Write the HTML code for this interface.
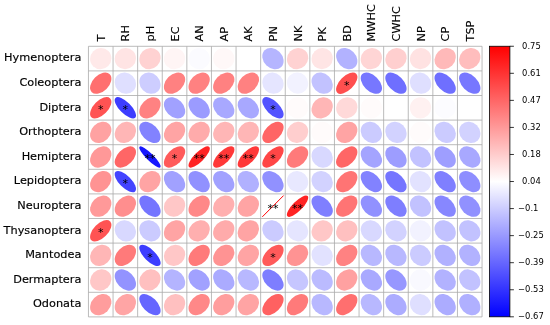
<!DOCTYPE html>
<html><head><meta charset="utf-8"><title>Correlation plot</title>
<style>
html,body{margin:0;padding:0;background:#fff;}
body{width:550px;height:325px;overflow:hidden;}
svg{display:block;}
text{font-family:"DejaVu Sans","Liberation Sans",sans-serif;fill:#000;stroke:#000;stroke-width:0.15px;}
.rl{font-size:11.3px;text-anchor:end;}
.cl{font-size:11.25px;text-anchor:start;}
.tl{font-size:8.4px;stroke:none;text-anchor:start;}
.st{font-size:11px;stroke:none;text-anchor:middle;fill:#000;}
</style></head><body>
<svg width="550" height="325" viewBox="0 0 550 325">
<defs><linearGradient id="cb" x1="0" y1="0" x2="0" y2="1"><stop offset="0" stop-color="#ff0000"/><stop offset="0.5" stop-color="#ffffff"/><stop offset="1" stop-color="#0000ff"/></linearGradient></defs>
<rect x="0" y="0" width="550" height="325" fill="#ffffff"/>
<ellipse cx="100.75" cy="58.60" rx="10.78" ry="10.52" fill="#ffe9e9" transform="rotate(-45 100.75 58.60)"/>
<ellipse cx="125.35" cy="58.60" rx="10.83" ry="10.47" fill="#ffe4e4" transform="rotate(-45 125.35 58.60)"/>
<ellipse cx="149.95" cy="58.60" rx="11.04" ry="10.25" fill="#ffd2d2" transform="rotate(-45 149.95 58.60)"/>
<ellipse cx="174.55" cy="58.60" rx="10.69" ry="10.61" fill="#fff5f5" transform="rotate(-45 174.55 58.60)"/>
<ellipse cx="199.15" cy="58.60" rx="10.68" ry="10.62" fill="#fbfbff" transform="rotate(45 199.15 58.60)"/>
<ellipse cx="223.75" cy="58.60" rx="10.67" ry="10.63" fill="#fff8f8" transform="rotate(-45 223.75 58.60)"/>
<ellipse cx="248.35" cy="58.60" rx="10.65" ry="10.65" fill="#ffffff" transform="rotate(-45 248.35 58.60)"/>
<ellipse cx="272.95" cy="58.60" rx="11.79" ry="9.37" fill="#b5b5ff" transform="rotate(45 272.95 58.60)"/>
<ellipse cx="297.55" cy="58.60" rx="11.04" ry="10.24" fill="#ffd2d2" transform="rotate(-45 297.55 58.60)"/>
<ellipse cx="322.15" cy="58.60" rx="10.82" ry="10.47" fill="#ffe5e5" transform="rotate(-45 322.15 58.60)"/>
<ellipse cx="346.75" cy="58.60" rx="11.85" ry="9.30" fill="#b2b2ff" transform="rotate(45 346.75 58.60)"/>
<ellipse cx="371.35" cy="58.60" rx="11.00" ry="10.29" fill="#ffd5d5" transform="rotate(-45 371.35 58.60)"/>
<ellipse cx="395.95" cy="58.60" rx="11.07" ry="10.21" fill="#ffcfcf" transform="rotate(-45 395.95 58.60)"/>
<ellipse cx="420.55" cy="58.60" rx="10.86" ry="10.44" fill="#ffe2e2" transform="rotate(-45 420.55 58.60)"/>
<ellipse cx="445.15" cy="58.60" rx="11.39" ry="9.86" fill="#ffb9b9" transform="rotate(-45 445.15 58.60)"/>
<ellipse cx="469.75" cy="58.60" rx="11.33" ry="9.92" fill="#ffbdbd" transform="rotate(-45 469.75 58.60)"/>
<ellipse cx="100.75" cy="83.20" rx="12.70" ry="8.09" fill="#ff6f6f" transform="rotate(-45 100.75 83.20)"/>
<ellipse cx="125.35" cy="83.20" rx="11.09" ry="10.19" fill="#dfdfff" transform="rotate(45 125.35 83.20)"/>
<ellipse cx="149.95" cy="83.20" rx="11.38" ry="9.86" fill="#cdcdff" transform="rotate(45 149.95 83.20)"/>
<ellipse cx="174.55" cy="83.20" rx="12.36" ry="8.61" fill="#ff8181" transform="rotate(-45 174.55 83.20)"/>
<ellipse cx="199.15" cy="83.20" rx="12.36" ry="8.61" fill="#ff8181" transform="rotate(-45 199.15 83.20)"/>
<ellipse cx="223.75" cy="83.20" rx="12.36" ry="8.61" fill="#ff8181" transform="rotate(-45 223.75 83.20)"/>
<ellipse cx="248.35" cy="83.20" rx="12.36" ry="8.61" fill="#ff8181" transform="rotate(-45 248.35 83.20)"/>
<ellipse cx="272.95" cy="83.20" rx="10.99" ry="10.30" fill="#e5e5ff" transform="rotate(45 272.95 83.20)"/>
<ellipse cx="297.55" cy="83.20" rx="10.80" ry="10.50" fill="#f2f2ff" transform="rotate(45 297.55 83.20)"/>
<ellipse cx="322.15" cy="83.20" rx="11.57" ry="9.64" fill="#c2c2ff" transform="rotate(45 322.15 83.20)"/>
<ellipse cx="346.75" cy="83.20" rx="13.36" ry="6.96" fill="#ff4f4f" transform="rotate(-45 346.75 83.20)"/>
<ellipse cx="371.35" cy="83.20" rx="12.92" ry="7.74" fill="#7777ff" transform="rotate(45 371.35 83.20)"/>
<ellipse cx="395.95" cy="83.20" rx="13.05" ry="7.51" fill="#6f6fff" transform="rotate(45 395.95 83.20)"/>
<ellipse cx="420.55" cy="83.20" rx="11.09" ry="10.19" fill="#dfdfff" transform="rotate(45 420.55 83.20)"/>
<ellipse cx="445.15" cy="83.20" rx="13.05" ry="7.51" fill="#6f6fff" transform="rotate(45 445.15 83.20)"/>
<ellipse cx="469.75" cy="83.20" rx="12.92" ry="7.74" fill="#7777ff" transform="rotate(45 469.75 83.20)"/>
<ellipse cx="100.75" cy="107.80" rx="13.28" ry="7.10" fill="#ff5353" transform="rotate(-45 100.75 107.80)"/>
<ellipse cx="125.35" cy="107.80" rx="13.97" ry="5.63" fill="#3d3dff" transform="rotate(45 125.35 107.80)"/>
<ellipse cx="149.95" cy="107.80" rx="12.35" ry="8.62" fill="#ff8282" transform="rotate(-45 149.95 107.80)"/>
<ellipse cx="174.55" cy="107.80" rx="12.15" ry="8.90" fill="#a1a1ff" transform="rotate(45 174.55 107.80)"/>
<ellipse cx="199.15" cy="107.80" rx="12.26" ry="8.74" fill="#9b9bff" transform="rotate(45 199.15 107.80)"/>
<ellipse cx="223.75" cy="107.80" rx="12.03" ry="9.06" fill="#a8a8ff" transform="rotate(45 223.75 107.80)"/>
<ellipse cx="248.35" cy="107.80" rx="12.03" ry="9.06" fill="#a8a8ff" transform="rotate(45 248.35 107.80)"/>
<ellipse cx="272.95" cy="107.80" rx="13.58" ry="6.52" fill="#5353ff" transform="rotate(45 272.95 107.80)"/>
<ellipse cx="297.55" cy="107.80" rx="10.66" ry="10.64" fill="#fffbfb" transform="rotate(-45 297.55 107.80)"/>
<ellipse cx="322.15" cy="107.80" rx="11.44" ry="9.80" fill="#ffb6b6" transform="rotate(-45 322.15 107.80)"/>
<ellipse cx="346.75" cy="107.80" rx="10.96" ry="10.33" fill="#ffd9d9" transform="rotate(-45 346.75 107.80)"/>
<ellipse cx="371.35" cy="107.80" rx="10.66" ry="10.64" fill="#fffbfb" transform="rotate(-45 371.35 107.80)"/>
<ellipse cx="395.95" cy="107.80" rx="10.65" ry="10.65" fill="#ffffff" transform="rotate(-45 395.95 107.80)"/>
<ellipse cx="420.55" cy="107.80" rx="10.72" ry="10.58" fill="#fff1f1" transform="rotate(-45 420.55 107.80)"/>
<ellipse cx="445.15" cy="107.80" rx="10.68" ry="10.62" fill="#fcfcff" transform="rotate(45 445.15 107.80)"/>
<ellipse cx="469.75" cy="107.80" rx="10.65" ry="10.65" fill="#ffffff" transform="rotate(-45 469.75 107.80)"/>
<ellipse cx="100.75" cy="132.40" rx="11.77" ry="9.40" fill="#ffa2a2" transform="rotate(-45 100.75 132.40)"/>
<ellipse cx="125.35" cy="132.40" rx="11.44" ry="9.80" fill="#ffb6b6" transform="rotate(-45 125.35 132.40)"/>
<ellipse cx="149.95" cy="132.40" rx="12.71" ry="8.08" fill="#8282ff" transform="rotate(45 149.95 132.40)"/>
<ellipse cx="174.55" cy="132.40" rx="11.72" ry="9.46" fill="#ffa4a4" transform="rotate(-45 174.55 132.40)"/>
<ellipse cx="199.15" cy="132.40" rx="11.61" ry="9.60" fill="#ffabab" transform="rotate(-45 199.15 132.40)"/>
<ellipse cx="223.75" cy="132.40" rx="11.44" ry="9.80" fill="#ffb6b6" transform="rotate(-45 223.75 132.40)"/>
<ellipse cx="248.35" cy="132.40" rx="11.44" ry="9.80" fill="#ffb6b6" transform="rotate(-45 248.35 132.40)"/>
<ellipse cx="272.95" cy="132.40" rx="12.92" ry="7.74" fill="#ff6565" transform="rotate(-45 272.95 132.40)"/>
<ellipse cx="297.55" cy="132.40" rx="11.09" ry="10.19" fill="#ffcece" transform="rotate(-45 297.55 132.40)"/>
<ellipse cx="322.15" cy="132.40" rx="10.66" ry="10.64" fill="#fffbfb" transform="rotate(-45 322.15 132.40)"/>
<ellipse cx="346.75" cy="132.40" rx="11.72" ry="9.46" fill="#ffa4a4" transform="rotate(-45 346.75 132.40)"/>
<ellipse cx="371.35" cy="132.40" rx="11.41" ry="9.83" fill="#cbcbff" transform="rotate(45 371.35 132.40)"/>
<ellipse cx="395.95" cy="132.40" rx="11.30" ry="9.96" fill="#d2d2ff" transform="rotate(45 395.95 132.40)"/>
<ellipse cx="420.55" cy="132.40" rx="10.66" ry="10.64" fill="#fffbfb" transform="rotate(-45 420.55 132.40)"/>
<ellipse cx="445.15" cy="132.40" rx="11.41" ry="9.83" fill="#cbcbff" transform="rotate(45 445.15 132.40)"/>
<ellipse cx="469.75" cy="132.40" rx="11.30" ry="9.96" fill="#d2d2ff" transform="rotate(45 469.75 132.40)"/>
<ellipse cx="100.75" cy="157.00" rx="11.94" ry="9.18" fill="#ff9898" transform="rotate(-45 100.75 157.00)"/>
<ellipse cx="125.35" cy="157.00" rx="12.90" ry="7.78" fill="#ff6666" transform="rotate(-45 125.35 157.00)"/>
<ellipse cx="149.95" cy="157.00" rx="14.66" ry="3.46" fill="#1717ff" transform="rotate(45 149.95 157.00)"/>
<ellipse cx="174.55" cy="157.00" rx="13.14" ry="7.37" fill="#ff5a5a" transform="rotate(-45 174.55 157.00)"/>
<ellipse cx="199.15" cy="157.00" rx="14.27" ry="4.81" fill="#ff2424" transform="rotate(-45 199.15 157.00)"/>
<ellipse cx="223.75" cy="157.00" rx="13.85" ry="5.92" fill="#ff3838" transform="rotate(-45 223.75 157.00)"/>
<ellipse cx="248.35" cy="157.00" rx="13.85" ry="5.92" fill="#ff3838" transform="rotate(-45 248.35 157.00)"/>
<ellipse cx="272.95" cy="157.00" rx="13.55" ry="6.58" fill="#ff4646" transform="rotate(-45 272.95 157.00)"/>
<ellipse cx="297.55" cy="157.00" rx="12.49" ry="8.42" fill="#ff7a7a" transform="rotate(-45 297.55 157.00)"/>
<ellipse cx="322.15" cy="157.00" rx="11.19" ry="10.08" fill="#d8d8ff" transform="rotate(45 322.15 157.00)"/>
<ellipse cx="346.75" cy="157.00" rx="12.90" ry="7.78" fill="#ff6666" transform="rotate(-45 346.75 157.00)"/>
<ellipse cx="371.35" cy="157.00" rx="12.09" ry="8.98" fill="#a4a4ff" transform="rotate(45 371.35 157.00)"/>
<ellipse cx="395.95" cy="157.00" rx="12.22" ry="8.81" fill="#9d9dff" transform="rotate(45 395.95 157.00)"/>
<ellipse cx="420.55" cy="157.00" rx="11.57" ry="9.64" fill="#c2c2ff" transform="rotate(45 420.55 157.00)"/>
<ellipse cx="445.15" cy="157.00" rx="12.21" ry="8.82" fill="#9e9eff" transform="rotate(45 445.15 157.00)"/>
<ellipse cx="469.75" cy="157.00" rx="12.03" ry="9.06" fill="#a8a8ff" transform="rotate(45 469.75 157.00)"/>
<ellipse cx="100.75" cy="181.60" rx="12.03" ry="9.06" fill="#ff9393" transform="rotate(-45 100.75 181.60)"/>
<ellipse cx="125.35" cy="181.60" rx="13.84" ry="5.95" fill="#4444ff" transform="rotate(45 125.35 181.60)"/>
<ellipse cx="149.95" cy="181.60" rx="11.72" ry="9.46" fill="#ffa4a4" transform="rotate(-45 149.95 181.60)"/>
<ellipse cx="174.55" cy="181.60" rx="12.15" ry="8.90" fill="#a1a1ff" transform="rotate(45 174.55 181.60)"/>
<ellipse cx="199.15" cy="181.60" rx="12.44" ry="8.49" fill="#9191ff" transform="rotate(45 199.15 181.60)"/>
<ellipse cx="223.75" cy="181.60" rx="12.15" ry="8.90" fill="#a1a1ff" transform="rotate(45 223.75 181.60)"/>
<ellipse cx="248.35" cy="181.60" rx="11.86" ry="9.29" fill="#b1b1ff" transform="rotate(45 248.35 181.60)"/>
<ellipse cx="272.95" cy="181.60" rx="12.44" ry="8.49" fill="#9191ff" transform="rotate(45 272.95 181.60)"/>
<ellipse cx="297.55" cy="181.60" rx="10.94" ry="10.35" fill="#e8e8ff" transform="rotate(45 297.55 181.60)"/>
<ellipse cx="322.15" cy="181.60" rx="11.30" ry="9.96" fill="#d2d2ff" transform="rotate(45 322.15 181.60)"/>
<ellipse cx="346.75" cy="181.60" rx="12.62" ry="8.22" fill="#ff7474" transform="rotate(-45 346.75 181.60)"/>
<ellipse cx="371.35" cy="181.60" rx="12.71" ry="8.08" fill="#8282ff" transform="rotate(45 371.35 181.60)"/>
<ellipse cx="395.95" cy="181.60" rx="12.95" ry="7.69" fill="#7575ff" transform="rotate(45 395.95 181.60)"/>
<ellipse cx="420.55" cy="181.60" rx="11.04" ry="10.25" fill="#e2e2ff" transform="rotate(45 420.55 181.60)"/>
<ellipse cx="445.15" cy="181.60" rx="12.77" ry="7.99" fill="#7f7fff" transform="rotate(45 445.15 181.60)"/>
<ellipse cx="469.75" cy="181.60" rx="12.50" ry="8.41" fill="#8e8eff" transform="rotate(45 469.75 181.60)"/>
<ellipse cx="100.75" cy="206.20" rx="11.93" ry="9.20" fill="#ff9999" transform="rotate(-45 100.75 206.20)"/>
<ellipse cx="125.35" cy="206.20" rx="12.12" ry="8.94" fill="#ff8e8e" transform="rotate(-45 125.35 206.20)"/>
<ellipse cx="149.95" cy="206.20" rx="12.95" ry="7.69" fill="#7575ff" transform="rotate(45 149.95 206.20)"/>
<ellipse cx="174.55" cy="206.20" rx="11.18" ry="10.09" fill="#ffc7c7" transform="rotate(-45 174.55 206.20)"/>
<ellipse cx="199.15" cy="206.20" rx="12.22" ry="8.80" fill="#ff8888" transform="rotate(-45 199.15 206.20)"/>
<ellipse cx="223.75" cy="206.20" rx="11.55" ry="9.67" fill="#ffafaf" transform="rotate(-45 223.75 206.20)"/>
<ellipse cx="248.35" cy="206.20" rx="11.72" ry="9.46" fill="#ffa4a4" transform="rotate(-45 248.35 206.20)"/>
<path d="M262.30 216.85L283.60 195.55" stroke="#ff0000" stroke-width="1.0" fill="none"/>
<ellipse cx="297.55" cy="206.20" rx="14.27" ry="4.81" fill="#ff2424" transform="rotate(-45 297.55 206.20)"/>
<ellipse cx="322.15" cy="206.20" rx="12.77" ry="7.99" fill="#7f7fff" transform="rotate(45 322.15 206.20)"/>
<ellipse cx="346.75" cy="206.20" rx="12.62" ry="8.22" fill="#ff7474" transform="rotate(-45 346.75 206.20)"/>
<ellipse cx="371.35" cy="206.20" rx="12.44" ry="8.49" fill="#9191ff" transform="rotate(45 371.35 206.20)"/>
<ellipse cx="395.95" cy="206.20" rx="12.79" ry="7.95" fill="#7e7eff" transform="rotate(45 395.95 206.20)"/>
<ellipse cx="420.55" cy="206.20" rx="11.57" ry="9.64" fill="#c2c2ff" transform="rotate(45 420.55 206.20)"/>
<ellipse cx="445.15" cy="206.20" rx="12.63" ry="8.21" fill="#8787ff" transform="rotate(45 445.15 206.20)"/>
<ellipse cx="469.75" cy="206.20" rx="12.43" ry="8.50" fill="#9191ff" transform="rotate(45 469.75 206.20)"/>
<ellipse cx="100.75" cy="230.80" rx="13.28" ry="7.10" fill="#ff5353" transform="rotate(-45 100.75 230.80)"/>
<ellipse cx="125.35" cy="230.80" rx="11.19" ry="10.08" fill="#d8d8ff" transform="rotate(45 125.35 230.80)"/>
<ellipse cx="149.95" cy="230.80" rx="11.41" ry="9.83" fill="#cbcbff" transform="rotate(45 149.95 230.80)"/>
<ellipse cx="174.55" cy="230.80" rx="11.72" ry="9.46" fill="#ffa4a4" transform="rotate(-45 174.55 230.80)"/>
<ellipse cx="199.15" cy="230.80" rx="11.55" ry="9.67" fill="#ffafaf" transform="rotate(-45 199.15 230.80)"/>
<ellipse cx="223.75" cy="230.80" rx="11.61" ry="9.60" fill="#ffabab" transform="rotate(-45 223.75 230.80)"/>
<ellipse cx="248.35" cy="230.80" rx="11.72" ry="9.46" fill="#ffa4a4" transform="rotate(-45 248.35 230.80)"/>
<ellipse cx="272.95" cy="230.80" rx="11.41" ry="9.83" fill="#cbcbff" transform="rotate(45 272.95 230.80)"/>
<ellipse cx="297.55" cy="230.80" rx="10.99" ry="10.30" fill="#e5e5ff" transform="rotate(45 297.55 230.80)"/>
<ellipse cx="322.15" cy="230.80" rx="11.18" ry="10.09" fill="#ffc7c7" transform="rotate(-45 322.15 230.80)"/>
<ellipse cx="346.75" cy="230.80" rx="11.28" ry="9.98" fill="#ffc0c0" transform="rotate(-45 346.75 230.80)"/>
<ellipse cx="371.35" cy="230.80" rx="11.19" ry="10.08" fill="#d8d8ff" transform="rotate(45 371.35 230.80)"/>
<ellipse cx="395.95" cy="230.80" rx="11.30" ry="9.96" fill="#d2d2ff" transform="rotate(45 395.95 230.80)"/>
<ellipse cx="420.55" cy="230.80" rx="10.80" ry="10.50" fill="#f2f2ff" transform="rotate(45 420.55 230.80)"/>
<ellipse cx="445.15" cy="230.80" rx="11.57" ry="9.64" fill="#c2c2ff" transform="rotate(45 445.15 230.80)"/>
<ellipse cx="469.75" cy="230.80" rx="11.57" ry="9.64" fill="#c2c2ff" transform="rotate(45 469.75 230.80)"/>
<ellipse cx="100.75" cy="255.40" rx="11.44" ry="9.80" fill="#ffb6b6" transform="rotate(-45 100.75 255.40)"/>
<ellipse cx="125.35" cy="255.40" rx="12.49" ry="8.42" fill="#ff7a7a" transform="rotate(-45 125.35 255.40)"/>
<ellipse cx="149.95" cy="255.40" rx="13.97" ry="5.63" fill="#3d3dff" transform="rotate(45 149.95 255.40)"/>
<ellipse cx="174.55" cy="255.40" rx="11.18" ry="10.09" fill="#ffc7c7" transform="rotate(-45 174.55 255.40)"/>
<ellipse cx="199.15" cy="255.40" rx="12.49" ry="8.42" fill="#ff7a7a" transform="rotate(-45 199.15 255.40)"/>
<ellipse cx="223.75" cy="255.40" rx="12.03" ry="9.06" fill="#ff9393" transform="rotate(-45 223.75 255.40)"/>
<ellipse cx="248.35" cy="255.40" rx="11.72" ry="9.46" fill="#ffa4a4" transform="rotate(-45 248.35 255.40)"/>
<ellipse cx="272.95" cy="255.40" rx="13.14" ry="7.37" fill="#ff5a5a" transform="rotate(-45 272.95 255.40)"/>
<ellipse cx="297.55" cy="255.40" rx="12.03" ry="9.06" fill="#ff9393" transform="rotate(-45 297.55 255.40)"/>
<ellipse cx="322.15" cy="255.40" rx="11.04" ry="10.25" fill="#e2e2ff" transform="rotate(45 322.15 255.40)"/>
<ellipse cx="346.75" cy="255.40" rx="12.35" ry="8.62" fill="#ff8282" transform="rotate(-45 346.75 255.40)"/>
<ellipse cx="371.35" cy="255.40" rx="11.74" ry="9.43" fill="#b8b8ff" transform="rotate(45 371.35 255.40)"/>
<ellipse cx="395.95" cy="255.40" rx="11.74" ry="9.43" fill="#b8b8ff" transform="rotate(45 395.95 255.40)"/>
<ellipse cx="420.55" cy="255.40" rx="11.41" ry="9.83" fill="#cbcbff" transform="rotate(45 420.55 255.40)"/>
<ellipse cx="445.15" cy="255.40" rx="11.86" ry="9.28" fill="#b1b1ff" transform="rotate(45 445.15 255.40)"/>
<ellipse cx="469.75" cy="255.40" rx="11.85" ry="9.29" fill="#b2b2ff" transform="rotate(45 469.75 255.40)"/>
<ellipse cx="100.75" cy="280.00" rx="11.18" ry="10.09" fill="#ffc7c7" transform="rotate(-45 100.75 280.00)"/>
<ellipse cx="125.35" cy="280.00" rx="12.40" ry="8.55" fill="#9393ff" transform="rotate(45 125.35 280.00)"/>
<ellipse cx="149.95" cy="280.00" rx="11.28" ry="9.98" fill="#ffc0c0" transform="rotate(-45 149.95 280.00)"/>
<ellipse cx="174.55" cy="280.00" rx="11.82" ry="9.33" fill="#b4b4ff" transform="rotate(45 174.55 280.00)"/>
<ellipse cx="199.15" cy="280.00" rx="12.15" ry="8.90" fill="#a1a1ff" transform="rotate(45 199.15 280.00)"/>
<ellipse cx="223.75" cy="280.00" rx="11.97" ry="9.14" fill="#ababff" transform="rotate(45 223.75 280.00)"/>
<ellipse cx="248.35" cy="280.00" rx="11.74" ry="9.43" fill="#b8b8ff" transform="rotate(45 248.35 280.00)"/>
<ellipse cx="272.95" cy="280.00" rx="12.79" ry="7.95" fill="#7e7eff" transform="rotate(45 272.95 280.00)"/>
<ellipse cx="297.55" cy="280.00" rx="11.51" ry="9.72" fill="#c6c6ff" transform="rotate(45 297.55 280.00)"/>
<ellipse cx="322.15" cy="280.00" rx="11.69" ry="9.49" fill="#bbbbff" transform="rotate(45 322.15 280.00)"/>
<ellipse cx="346.75" cy="280.00" rx="11.78" ry="9.38" fill="#ffa1a1" transform="rotate(-45 346.75 280.00)"/>
<ellipse cx="371.35" cy="280.00" rx="12.01" ry="9.09" fill="#a9a9ff" transform="rotate(45 371.35 280.00)"/>
<ellipse cx="395.95" cy="280.00" rx="12.34" ry="8.64" fill="#9797ff" transform="rotate(45 395.95 280.00)"/>
<ellipse cx="420.55" cy="280.00" rx="10.71" ry="10.59" fill="#f9f9ff" transform="rotate(45 420.55 280.00)"/>
<ellipse cx="445.15" cy="280.00" rx="11.85" ry="9.29" fill="#b2b2ff" transform="rotate(45 445.15 280.00)"/>
<ellipse cx="469.75" cy="280.00" rx="11.57" ry="9.64" fill="#c2c2ff" transform="rotate(45 469.75 280.00)"/>
<ellipse cx="100.75" cy="304.60" rx="11.85" ry="9.30" fill="#ff9d9d" transform="rotate(-45 100.75 304.60)"/>
<ellipse cx="125.35" cy="304.60" rx="11.71" ry="9.47" fill="#ffa5a5" transform="rotate(-45 125.35 304.60)"/>
<ellipse cx="149.95" cy="304.60" rx="13.25" ry="7.16" fill="#6565ff" transform="rotate(45 149.95 304.60)"/>
<ellipse cx="174.55" cy="304.60" rx="11.28" ry="9.98" fill="#ffc0c0" transform="rotate(-45 174.55 304.60)"/>
<ellipse cx="199.15" cy="304.60" rx="12.22" ry="8.80" fill="#ff8888" transform="rotate(-45 199.15 304.60)"/>
<ellipse cx="223.75" cy="304.60" rx="11.83" ry="9.32" fill="#ff9e9e" transform="rotate(-45 223.75 304.60)"/>
<ellipse cx="248.35" cy="304.60" rx="11.72" ry="9.46" fill="#ffa4a4" transform="rotate(-45 248.35 304.60)"/>
<ellipse cx="272.95" cy="304.60" rx="12.99" ry="7.62" fill="#ff6161" transform="rotate(-45 272.95 304.60)"/>
<ellipse cx="297.55" cy="304.60" rx="12.49" ry="8.41" fill="#ff7a7a" transform="rotate(-45 297.55 304.60)"/>
<ellipse cx="322.15" cy="304.60" rx="11.74" ry="9.43" fill="#b8b8ff" transform="rotate(45 322.15 304.60)"/>
<ellipse cx="346.75" cy="304.60" rx="12.70" ry="8.09" fill="#ff6f6f" transform="rotate(-45 346.75 304.60)"/>
<ellipse cx="371.35" cy="304.60" rx="11.74" ry="9.43" fill="#b8b8ff" transform="rotate(45 371.35 304.60)"/>
<ellipse cx="395.95" cy="304.60" rx="11.95" ry="9.17" fill="#acacff" transform="rotate(45 395.95 304.60)"/>
<ellipse cx="420.55" cy="304.60" rx="11.09" ry="10.19" fill="#dfdfff" transform="rotate(45 420.55 304.60)"/>
<ellipse cx="445.15" cy="304.60" rx="11.95" ry="9.17" fill="#acacff" transform="rotate(45 445.15 304.60)"/>
<ellipse cx="469.75" cy="304.60" rx="11.88" ry="9.25" fill="#b0b0ff" transform="rotate(45 469.75 304.60)"/>
<path d="M88.45 46.30V316.90M113.05 46.30V316.90M137.65 46.30V316.90M162.25 46.30V316.90M186.85 46.30V316.90M211.45 46.30V316.90M236.05 46.30V316.90M260.65 46.30V316.90M285.25 46.30V316.90M309.85 46.30V316.90M334.45 46.30V316.90M359.05 46.30V316.90M383.65 46.30V316.90M408.25 46.30V316.90M432.85 46.30V316.90M457.45 46.30V316.90M482.05 46.30V316.90M88.45 46.30H482.05M88.45 70.90H482.05M88.45 95.50H482.05M88.45 120.10H482.05M88.45 144.70H482.05M88.45 169.30H482.05M88.45 193.90H482.05M88.45 218.50H482.05M88.45 243.10H482.05M88.45 267.70H482.05M88.45 292.30H482.05M88.45 316.90H482.05" stroke="#aaaaaa" stroke-width="0.8" fill="none"/>
<text class="st" x="346.75" y="88.60">*</text>
<text class="st" x="100.75" y="113.20">*</text>
<text class="st" x="125.35" y="113.20">*</text>
<text class="st" x="272.95" y="113.20">*</text>
<text class="st" x="149.95" y="162.40">**</text>
<text class="st" x="174.55" y="162.40">*</text>
<text class="st" x="199.15" y="162.40">**</text>
<text class="st" x="223.75" y="162.40">**</text>
<text class="st" x="248.35" y="162.40">**</text>
<text class="st" x="272.95" y="162.40">*</text>
<text class="st" x="125.35" y="187.00">*</text>
<text class="st" x="272.95" y="211.60">**</text>
<text class="st" x="297.55" y="211.60">**</text>
<text class="st" x="100.75" y="236.20">*</text>
<text class="st" x="149.95" y="260.80">*</text>
<text class="st" x="272.95" y="260.80">*</text>
<text class="rl" x="81.35" y="61.30">Hymenoptera</text>
<text class="rl" x="81.35" y="85.90">Coleoptera</text>
<text class="rl" x="81.35" y="110.50">Diptera</text>
<text class="rl" x="81.35" y="135.10">Orthoptera</text>
<text class="rl" x="81.35" y="159.70">Hemiptera</text>
<text class="rl" x="81.35" y="184.30">Lepidoptera</text>
<text class="rl" x="81.35" y="208.90">Neuroptera</text>
<text class="rl" x="81.35" y="233.50">Thysanoptera</text>
<text class="rl" x="81.35" y="258.10">Mantodea</text>
<text class="rl" x="81.35" y="282.70">Dermaptera</text>
<text class="rl" x="81.35" y="307.30">Odonata</text>
<text class="cl" transform="translate(104.75 41.4) rotate(-90)">T</text>
<text class="cl" transform="translate(129.35 41.4) rotate(-90)">RH</text>
<text class="cl" transform="translate(153.95 41.4) rotate(-90)">pH</text>
<text class="cl" transform="translate(178.55 41.4) rotate(-90)">EC</text>
<text class="cl" transform="translate(203.15 41.4) rotate(-90)">AN</text>
<text class="cl" transform="translate(227.75 41.4) rotate(-90)">AP</text>
<text class="cl" transform="translate(252.35 41.4) rotate(-90)">AK</text>
<text class="cl" transform="translate(276.95 41.4) rotate(-90)">PN</text>
<text class="cl" transform="translate(301.55 41.4) rotate(-90)">NK</text>
<text class="cl" transform="translate(326.15 41.4) rotate(-90)">PK</text>
<text class="cl" transform="translate(350.75 41.4) rotate(-90)">BD</text>
<text class="cl" transform="translate(375.35 41.4) rotate(-90)">MWHC</text>
<text class="cl" transform="translate(399.95 41.4) rotate(-90)">CWHC</text>
<text class="cl" transform="translate(424.55 41.4) rotate(-90)">NP</text>
<text class="cl" transform="translate(449.15 41.4) rotate(-90)">CP</text>
<text class="cl" transform="translate(473.75 41.4) rotate(-90)">TSP</text>
<rect x="489.55" y="46.25" width="20.35" height="270.55" fill="url(#cb)" stroke="#000" stroke-width="0.8"/>
<path d="M509.9 46.25h4.0" stroke="#000" stroke-width="0.8"/>
<text class="tl" x="522.1" y="48.85">0.75</text>
<path d="M509.9 73.31h4.0" stroke="#000" stroke-width="0.8"/>
<text class="tl" x="522.1" y="75.91">0.61</text>
<path d="M509.9 100.36h4.0" stroke="#000" stroke-width="0.8"/>
<text class="tl" x="522.1" y="102.96">0.47</text>
<path d="M509.9 127.42h4.0" stroke="#000" stroke-width="0.8"/>
<text class="tl" x="522.1" y="130.02">0.32</text>
<path d="M509.9 154.47h4.0" stroke="#000" stroke-width="0.8"/>
<text class="tl" x="522.1" y="157.07">0.18</text>
<path d="M509.9 181.53h4.0" stroke="#000" stroke-width="0.8"/>
<text class="tl" x="522.1" y="184.12">0.04</text>
<path d="M509.9 208.58h4.0" stroke="#000" stroke-width="0.8"/>
<text class="tl" x="518.1" y="211.18">−0.1</text>
<path d="M509.9 235.64h4.0" stroke="#000" stroke-width="0.8"/>
<text class="tl" x="518.1" y="238.24">−0.25</text>
<path d="M509.9 262.69h4.0" stroke="#000" stroke-width="0.8"/>
<text class="tl" x="518.1" y="265.29">−0.39</text>
<path d="M509.9 289.75h4.0" stroke="#000" stroke-width="0.8"/>
<text class="tl" x="518.1" y="292.35">−0.53</text>
<path d="M509.9 316.80h4.0" stroke="#000" stroke-width="0.8"/>
<text class="tl" x="518.1" y="319.40">−0.67</text>
</svg>
</body></html>
